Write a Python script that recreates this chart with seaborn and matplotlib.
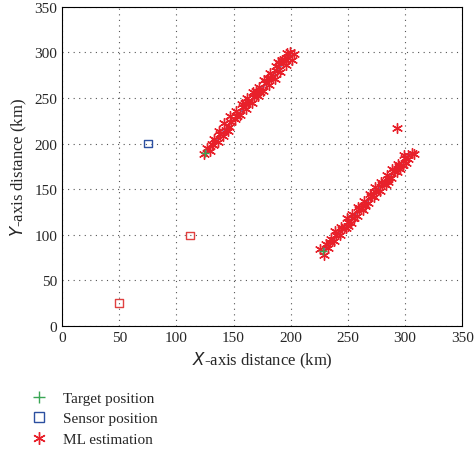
import matplotlib
matplotlib.use("Agg")
import matplotlib.pyplot as plt
import seaborn as sns
import pandas as pd
from matplotlib.lines import Line2D

# target tracks (km)
track1_x = [125, 130, 135, 140, 145, 150, 155, 160, 165, 170, 175, 180, 185, 190, 195, 200]
track1_y = [190, 197, 204, 211, 219, 226, 233, 240, 247, 254, 261, 268, 276, 283, 290, 297]
track2_x = [228, 233, 238, 243, 248, 253, 258, 263, 268, 273, 278, 283, 288, 293, 298, 303, 305]
track2_y = [82, 89, 96, 103, 110, 117, 124, 131, 138, 145, 152, 159, 166, 173, 180, 187, 190]

# sensors
sensor_blue_x = [75]
sensor_blue_y = [200]
sensor_red_x = [112, 50]
sensor_red_y = [99, 25]

# ML estimates (read off the cloud)
est1_x = [124, 127, 129, 131, 133, 132, 136, 138, 137, 141, 143, 142, 146, 148, 147, 151, 153, 152,
          156, 158, 157, 161, 163, 162, 166, 168, 167, 171, 173, 172, 176, 178, 177, 181, 183, 182,
          186, 188, 187, 191, 193, 192, 196, 198, 197, 201, 203, 199, 189, 194, 160, 170, 145, 180]
est1_y = [188, 195, 192, 199, 205, 198, 202, 210, 214, 208, 215, 222, 218, 224, 230, 227, 230, 236,
          231, 240, 243, 238, 246, 250, 244, 251, 257, 252, 257, 262, 258, 266, 270, 264, 272, 277,
          271, 280, 285, 279, 288, 292, 286, 294, 299, 292, 298, 300, 289, 293, 244, 258, 214, 272]
est2_x = [226, 229, 231, 233, 235, 234, 238, 240, 239, 243, 245, 244, 248, 250, 249, 253, 255, 254,
          258, 260, 259, 263, 265, 264, 268, 270, 269, 273, 275, 274, 278, 280, 279, 283, 285, 284,
          288, 290, 289, 293, 295, 294, 298, 300, 299, 303, 306, 308, 296, 301, 293, 250, 265, 285]
est2_y = [84, 78, 90, 86, 95, 92, 93, 100, 104, 100, 106, 109, 107, 114, 118, 113, 118, 123,
          121, 128, 130, 127, 133, 137, 135, 142, 145, 141, 147, 152, 148, 156, 158, 155, 161, 165,
          162, 170, 172, 169, 175, 178, 177, 184, 187, 183, 190, 188, 172, 179, 217, 110, 132, 158]

df_est = pd.DataFrame({"x": est1_x + est2_x, "y": est1_y + est2_y})

sns.set_style("white")
plt.rcParams["font.family"] = ["Liberation Serif", "DejaVu Serif"]

ASTER = (6, 2, 0)

fig = plt.figure(figsize=(4.74, 4.56), dpi=100)
ax = fig.add_axes([0.131, 0.283, 0.844, 0.7])

ax.plot(track1_x, track1_y, color="#7a6fb0", lw=1.5, zorder=1)
ax.plot(track2_x, track2_y, color="#7a6fb0", lw=1.5, zorder=1)
sns.scatterplot(data=df_est, x="x", y="y", marker=ASTER, s=50, color="#e8202a",
                edgecolor="#e8202a", linewidth=1.0, ax=ax, zorder=2)
sns.scatterplot(x=[track1_x[0], track2_x[0]], y=[track1_y[0], track2_y[0]], marker="+",
                s=40, color="#3aa655", linewidth=1, ax=ax, zorder=3)
ax.scatter(sensor_blue_x, sensor_blue_y, marker="s", s=30, facecolor="none",
           edgecolor="#2b4fa0", linewidth=1, zorder=3)
ax.scatter(sensor_red_x, sensor_red_y, marker="s", s=30, facecolor="none",
           edgecolor="#e04040", linewidth=1, zorder=3)

ax.set_xlim(0, 350)
ax.set_ylim(0, 350)
ax.set_xticks(range(0, 351, 50))
ax.set_yticks(range(0, 351, 50))
ax.grid(True, linestyle=(0, (1, 4)), color="#555555", linewidth=0.8)
for s in ax.spines.values():
    s.set_color("black")
    s.set_linewidth(0.8)
ax.tick_params(labelsize=11, direction="in", length=3)
ax.set_xlabel("$X$-axis distance (km)", fontsize=12)
ax.set_ylabel("$Y$-axis distance (km)", fontsize=12)

handles = [
    Line2D([], [], marker="+", color="#3aa655", ls="none", markersize=9),
    Line2D([], [], marker="s", markerfacecolor="none", markeredgecolor="#2b4fa0", ls="none", markersize=7),
    Line2D([], [], marker=ASTER, color="#e8202a", ls="none", markersize=9),
]
fig.legend(handles, ["Target position", "Sensor position", "ML estimation"],
           loc="upper left", bbox_to_anchor=(0.03, 0.16), frameon=False, fontsize=11,
           handletextpad=0.6, labelspacing=0.45, borderaxespad=0.2)

fig.savefig("out.png", dpi=100)
